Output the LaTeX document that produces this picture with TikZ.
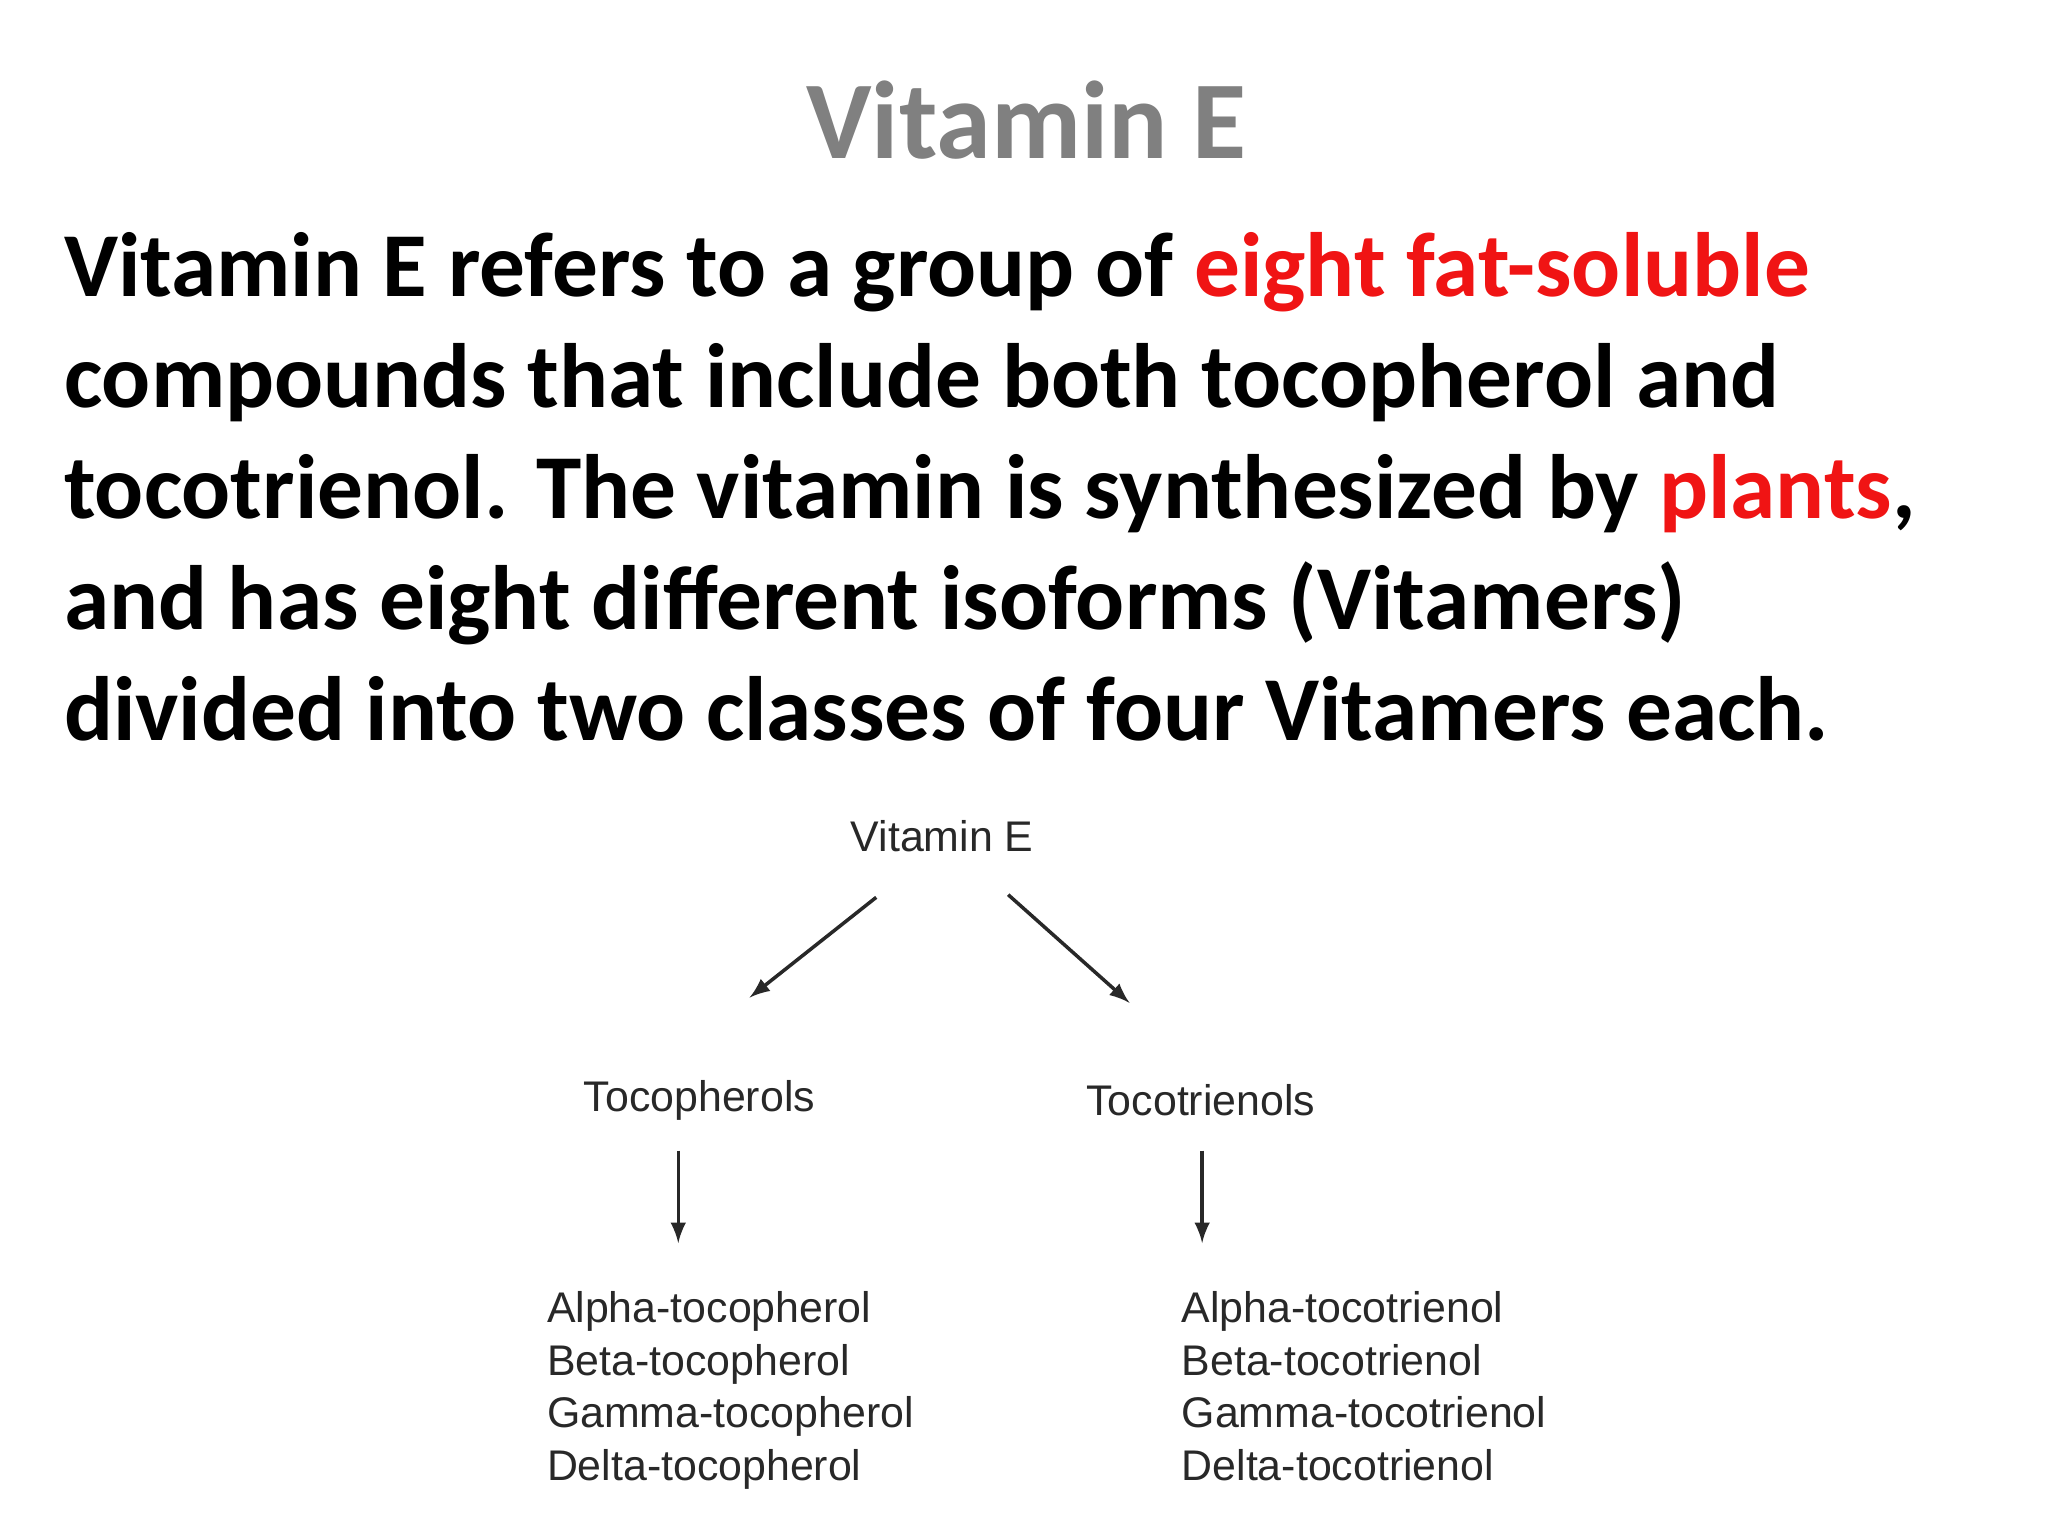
\documentclass[tikz,border=0pt]{standalone}
\usepackage{fontspec}
\setmainfont{Carlito}
\newfontfamily\diag{Liberation Sans}
\definecolor{ttl}{RGB}{128,128,128}
\definecolor{hl}{RGB}{240,20,20}
\definecolor{dg}{RGB}{40,40,40}
\begin{document}
\begin{tikzpicture}[x=0.0132cm,y=-0.0132cm,
  body/.style={anchor=base west,inner sep=0,font=\fontsize{26}{28}\selectfont\bfseries},
  dn/.style={inner sep=0,font=\diag\fontsize{12.2}{15}\selectfont,text=dg},
  arr/.style={-latex,line width=1pt,dg}]
\useasboundingbox (0,0) rectangle (1552,1164);
\node[inner sep=0,anchor=base,font=\fontsize{31.5}{34}\selectfont\bfseries,text=ttl] (title) at (778,120) {Vitamin E};
\node[body] (l1) at (48,225) {Vitamin E refers to a group of \textcolor{hl}{eight fat-soluble}};
\node[body] (l2) at (48,309) {compounds that include both tocopherol and};
\node[body] (l3) at (48,393) {tocotrienol. The vitamin is synthesized by \textcolor{hl}{plants},};
\node[body] (l4) at (48,477) {and has eight different isoforms (Vitamers)};
\node[body] (l5) at (48,561) {divided into two classes of four Vitamers each.};
\node[dn] (ve) at (714,634) {Vitamin E};
\node[dn] (toc) at (530,834) {Tocopherols};
\node[dn] (tri) at (910,834) {Tocotrienols};
\coordinate (a1s) at (664,680); \coordinate (a1e) at (568,756);
\coordinate (a2s) at (764,678); \coordinate (a2e) at (856,760);
\coordinate (b1s) at (514,872); \coordinate (b1e) at (514,942);
\coordinate (b2s) at (911,872); \coordinate (b2e) at (911,942);
\draw[arr] (a1s) -- (a1e);
\draw[arr] (a2s) -- (a2e);
\draw[arr] (b1s) -- (b1e);
\draw[arr] (b2s) -- (b2e);
\node[dn,anchor=north west,align=left] (tl) at (414,978) {Alpha-tocopherol\\Beta-tocopherol\\Gamma-tocopherol\\Delta-tocopherol};
\node[dn,anchor=north west,align=left] (tr) at (895,978) {Alpha-tocotrienol\\Beta-tocotrienol\\Gamma-tocotrienol\\Delta-tocotrienol};
\end{tikzpicture}
\end{document}
